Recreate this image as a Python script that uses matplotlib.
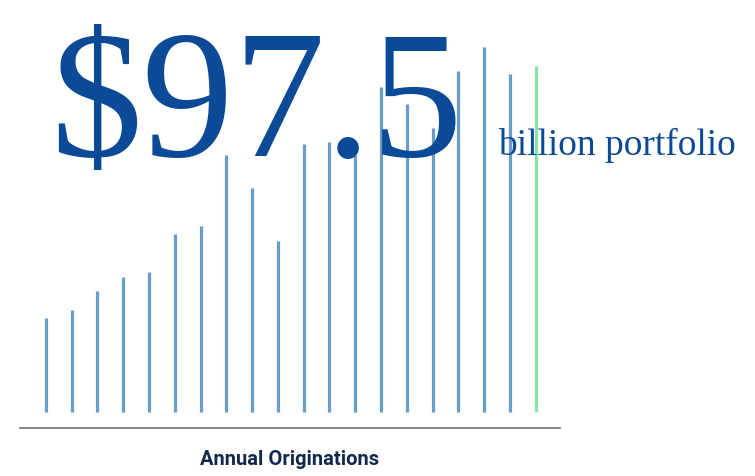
import matplotlib.pyplot as plt
from matplotlib.lines import Line2D

# annual originations, one bar per year (relative heights)
years = list(range(20))
originations = [94, 102, 121, 135, 140, 178, 186, 257, 224, 171,
                268, 270, 257, 325, 308, 284, 341, 365, 338, 346]
headline = "$97.5"
subline = "billion portfolio"
caption = "Annual Originations"

blue = "#6b9bc8"
green = "#86e3aa"
navy = "#0b4a96"

fig = plt.figure(figsize=(7.55, 4.77), dpi=100)
W, H = 755, 477

# axes placed so the bars line up with the reference
ax = fig.add_axes([45.8 / W, 64 / H, 490 / W, 365 / H])
ax.set_xlim(0, 19)
ax.set_ylim(0, 365)
ax.axis("off")

colors = [blue] * (len(years) - 1) + [green]
ax.vlines(years, 0, originations, colors=colors, linewidth=2.3, clip_on=False, zorder=1)

# baseline rule under the bars
fig.add_artist(Line2D([20 / W, 560 / W], [(H - 429) / H] * 2, color="#808080", linewidth=1.3))

fig.text(50 / W, (H - 156) / H, headline, fontsize=132, color=navy,
         family="Liberation Serif", va="baseline", ha="left", zorder=5)
fig.text(498 / W, (H - 155) / H, subline, fontsize=27, color=navy,
         family="Liberation Serif", va="baseline", ha="left", zorder=5)
fig.text(290 / W, (H - 465) / H, caption, fontsize=14.5, color="#13284d",
         family="Roboto", fontweight="bold", va="baseline", ha="center")

fig.savefig("out.png", dpi=100)
